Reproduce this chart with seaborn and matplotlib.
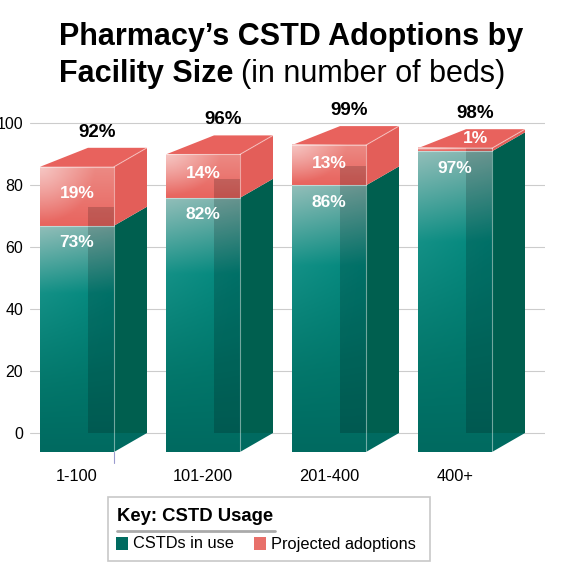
import numpy as np
import pandas as pd
import matplotlib
matplotlib.use("Agg")
import matplotlib.pyplot as plt
import seaborn as sns
from matplotlib.patches import Polygon, Rectangle
from matplotlib.lines import Line2D
from matplotlib.colors import to_rgb
from matplotlib import font_manager as fm

# ---------------- data ----------------
categories = ["1-100", "101-200", "201-400", "400+"]
in_use = [73, 82, 86, 97]          # CSTDs in use (%)
projected = [19, 14, 13, 1]        # projected adoptions (%)
total_labels = [92, 96, 99, 98]    # labels printed above bars
y_ticks = [0, 20, 40, 60, 80, 100]

GREEN = "#006b60"
RED = "#e8706a"

sns.set_theme(style="white")
names = {f.name for f in fm.fontManager.ttflist}
SANS = "Liberation Sans" if "Liberation Sans" in names else "DejaVu Sans"
NARROW = "Liberation Sans Narrow" if "Liberation Sans Narrow" in names else SANS
plt.rcParams["font.family"] = [SANS, "DejaVu Sans"]
plt.rcParams["text.color"] = "black"
plt.rcParams["xtick.color"] = "black"
plt.rcParams["ytick.color"] = "black"
plt.rcParams["axes.labelcolor"] = "black"

W, H = 561, 565
fig = plt.figure(figsize=(W / 100, H / 100), dpi=100)
fig.patch.set_facecolor("white")
ax = fig.add_axes([30 / W, (H - 460) / H, 515 / W, 365 / H])
ax.set_facecolor("white")

PX = 3.1      # pixels per percent
UX = 126.0    # pixels per category
D = 19 / PX   # depth (vertical) in data units
DXL = 48 / UX # depth offset of left edge
DXR = 33 / UX # depth offset of right edge
BW = 74 / UX  # front face width

totals = [a + b for a, b in zip(in_use, projected)]
df = pd.DataFrame({"size": categories, "in_use": in_use, "total": totals})

sns.barplot(data=df, x="size", y="total", color=RED, width=BW, ax=ax,
            saturation=1, errorbar=None, zorder=3, linewidth=0)
sns.barplot(data=df, x="size", y="in_use", color=GREEN, width=BW, ax=ax,
            saturation=1, errorbar=None, zorder=3, linewidth=0)

n = len(categories)
red_bars = ax.patches[:n]
green_bars = ax.patches[n:2 * n]


def lerp(stops, t):
    pos = np.array([s[0] for s in stops])
    cols = np.array([to_rgb(s[1]) for s in stops])
    return np.stack([np.interp(t, pos, cols[:, k]) for k in range(3)], axis=-1)


green_stops = [(0.0, "#7db2ac"), (0.30, "#00877c"), (0.70, "#007569"), (1.0, "#006a60")]
red_stops = [(0.0, "#ec8a84"), (1.0, "#e8645e")]

NR, NC = 200, 60
rr = np.linspace(0, 1, NR)[:, None]
cc = np.linspace(0, 1, NC)[None, :]

LBL = dict(ha="center", va="center", fontsize=12.5, fontweight="bold",
           family=[NARROW, "DejaVu Sans"], color="white", zorder=7)

for i in range(n):
    gp = green_bars[i]
    x0 = gp.get_x()
    x1 = x0 + gp.get_width()
    g = gp.get_height()
    h = red_bars[i].get_height()
    xbl = x0 + DXL
    xbr = x1 + DXR
    xc = (x0 + x1) / 2

    # side faces
    ax.add_patch(Polygon([(x1, 0), (xbr, D), (x1, D)], closed=True,
                         facecolor="#006a60", edgecolor="none", zorder=2))
    ax.add_patch(Polygon([(x1, D), (xbr, D), (xbr, g + D), (x1, g)], closed=True,
                         facecolor="#005f4f", edgecolor="none", zorder=2))
    ax.add_patch(Polygon([(x1, g), (xbr, g + D), (xbr, h + D), (x1, h)], closed=True,
                         facecolor="#e35e59", edgecolor="none", zorder=2))
    # top face
    ax.add_patch(Polygon([(x0, h), (xbl, h + D), (xbr, h + D), (x1, h)], closed=True,
                         facecolor="#e8625d", edgecolor="none", zorder=2))

    # gradient front faces
    base = lerp(green_stops, rr) * np.ones((1, NC, 1))
    w = (0.16 * (1 - cc) * (1 - rr) ** 2)[..., None]
    gimg = base * (1 - w) + w
    ax.imshow(gimg, extent=(x0, x1, 0, g), aspect="auto", origin="upper",
              interpolation="bilinear", zorder=4)
    base = lerp(red_stops, rr) * np.ones((1, NC, 1))
    dist = np.sqrt((cc / 0.75) ** 2 + (rr / 0.95) ** 2)
    w = (0.52 * np.clip(1 - dist, 0, 1))[..., None]
    rimg = base * (1 - w) + w
    ax.imshow(rimg, extent=(x0, x1, g, h), aspect="auto", origin="upper",
              interpolation="bilinear", zorder=4)

    # back face seen through the front
    top_ov = min(g + D, h)
    ax.add_patch(Rectangle((xbl, D), x1 - xbl, top_ov - D, facecolor="black",
                           alpha=0.17, edgecolor="none", zorder=5))

    # light edges
    ec = dict(color="white", alpha=0.45, lw=0.8, zorder=6)
    ax.add_line(Line2D([x1, x1], [0, h], **ec))
    ax.add_line(Line2D([x0, x1], [h, h], **ec))
    ax.add_line(Line2D([x0, x1], [g, g], **ec))
    ax.add_line(Line2D([x1, xbr], [h, h + D], **ec))

    # labels
    xt = (xc + (xbl + xbr) / 2) / 2
    ax.text(xt, h + D + 5, f"{total_labels[i]}%", ha="center", va="center",
            fontsize=13.5, fontweight="bold", color="black", zorder=7)
    ax.text(xc, g - 5.4, f"{in_use[i]}%", **LBL)
    if projected[i] >= 5:
        ax.text(xc, g + 0.55 * projected[i], f"{projected[i]}%", **LBL)
    else:
        ax.text((x0 + x1 + xbl + xbr) / 4, h + D / 2, f"{projected[i]}%", **LBL)

# stray edge line below first bar
x1_0 = green_bars[0].get_x() + green_bars[0].get_width()
ax.add_line(Line2D([x1_0, x1_0], [-3.6, 0], color="#9b9bcf", lw=0.8,
                   clip_on=False, zorder=6))

# axes
ax.set_xlim((30 - 77) / UX, (545 - 77) / UX)
ax.set_ylim((452 - 460) / PX, (452 - 95) / PX)
ax.set_yticks([t + D for t in y_ticks])
ax.set_yticklabels([str(t) for t in y_ticks])
ax.set_xticks(range(n))
ax.set_xticklabels(categories)
ax.yaxis.grid(True, color="#cccccc", lw=0.8)
ax.xaxis.grid(False)
ax.set_axisbelow(True)
ax.set_xlabel("")
ax.set_ylabel("")
for s in ax.spines.values():
    s.set_visible(False)
ax.tick_params(axis="y", length=0, pad=5, labelsize=11.5, labelcolor="black")
ax.tick_params(axis="x", length=0, pad=6.5, labelsize=11.8, labelcolor="black")


def fx(px):
    return px / W


def fy(py):
    return 1 - py / H


# title
fig.text(fx(59), fy(45), "Pharmacy\u2019s CSTD Adoptions by", fontsize=22,
         fontweight="bold", va="baseline", ha="left", color="black")
t2 = fig.text(fx(59), fy(82), "Facility Size", fontsize=22, fontweight="bold",
              va="baseline", ha="left", color="black")
fig.canvas.draw()
bb = t2.get_window_extent()
fig.text((bb.x1 + 8) / W, fy(82), "(in number of beds)", fontsize=22,
         va="baseline", ha="left", color="black")

# legend (key)
fig.patches.append(Rectangle((fx(108), fy(561)), 322 / W, 64 / H,
                             transform=fig.transFigure, facecolor="white",
                             edgecolor="#c8c8c8", lw=1.2))
fig.text(fx(117), fy(521), "Key: CSTD Usage", fontsize=13.3, fontweight="bold",
         va="baseline", ha="left", color="black")
fig.lines.append(Line2D([fx(117), fx(275)], [fy(531), fy(531)],
                        transform=fig.transFigure, color="#aaaaaa", lw=2))
for (lx, col, lab) in [(116, GREEN, "CSTDs in use"), (254, RED, "Projected adoptions")]:
    fig.patches.append(Rectangle((fx(lx), fy(550)), 12 / W, 13 / H,
                                 transform=fig.transFigure, facecolor=col,
                                 edgecolor="none"))
    fig.text(fx(lx + 17), fy(544), lab, fontsize=11.8, va="center", ha="left",
             color="black")

fig.savefig("out.png", dpi=100)
